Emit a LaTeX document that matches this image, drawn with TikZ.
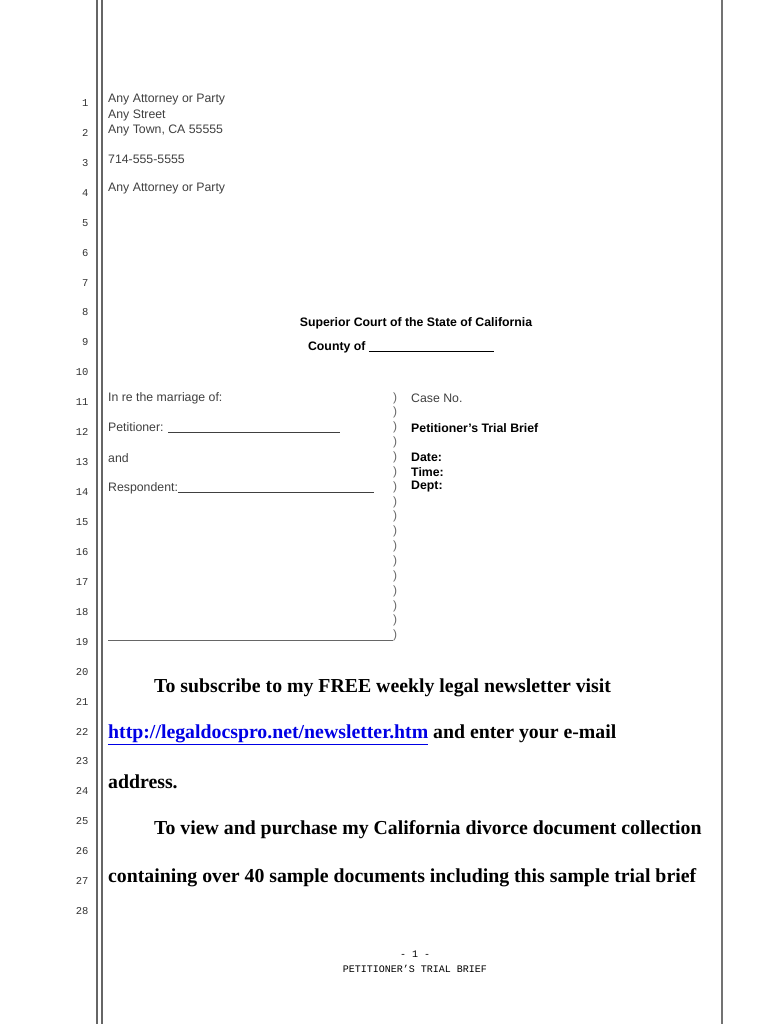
\documentclass[tikz,border=0pt]{standalone}
\usepackage{fontspec}
\setmainfont{Liberation Serif}
\setsansfont{Liberation Sans}
\setmonofont{Liberation Mono}
\begin{document}
\begin{tikzpicture}[x=1pt,y=-1pt,
  ln/.style={anchor=east,font=\ttfamily\fontsize{10.5}{10}\selectfont,text=black!80},
  tx/.style={anchor=west,font=\sffamily\fontsize{12.3}{12}\selectfont,text=black!75,inner sep=0},
  bx/.style={anchor=west,font=\sffamily\bfseries\fontsize{12.3}{12}\selectfont,inner sep=0},
  big/.style={anchor=west,font=\bfseries\fontsize{19.8}{18}\selectfont,inner sep=0},
  par/.style={font=\sffamily\fontsize{12}{12}\selectfont,text=black!60,inner sep=0}]
\useasboundingbox (0,0) rectangle (768,1024);
\fill[white] (0,0) rectangle (768,1024);
\draw[black!60,line width=1.2] (97,0) -- (97,1024);
\draw[black!60,line width=1.2] (102,0) -- (102,1024);
\draw[black!55,line width=1.4] (722,0) -- (722,1024);
\foreach \i in {1,...,28} \node[ln] (n\i) at (92,{103+(\i-1)*29.93}) {\i};
\node[tx] (a1) at (108,100) {Any Attorney or Party};
\node[tx] (a2) at (108,115) {Any Street};
\node[tx] (a3) at (108,130) {Any Town, CA 55555};
\node[tx] (a4) at (108,159) {714-555-5555};
\node[tx] (a5) at (108,189) {Any Attorney or Party};
\node[bx,anchor=center] (c1) at (416,323) {Superior Court of the State of California};
\node[bx,anchor=center] (c2) at (401,347) {County of \rule[-1pt]{125pt}{0.6pt}};
\node[tx] (m1) at (108,398) {In re the marriage of:};
\node[tx] (m2) at (108,428) {Petitioner: \rule[-1pt]{172pt}{0.6pt}};
\node[tx] (m3) at (108,458) {and};
\node[tx] (m4) at (108,488) {Respondent:\rule[-1pt]{196pt}{0.6pt}};
\foreach \k in {0,...,16} \node[par] (p\k) at (395,{398+\k*14.85}) {)};
\draw[black!60,line width=0.8] (108,640) -- (393,640);
\node[tx] (r1) at (411,398) {Case No.};
\node[bx] (r2) at (411,428) {Petitioner’s Trial Brief};
\node[bx] (r3) at (411,457) {Date:};
\node[bx] (r4) at (411,472) {Time:};
\node[bx] (r5) at (411,487) {Dept:};
\node[big] (t1) at (154,688) {To subscribe to my FREE weekly legal newsletter visit};
\node[big] (t2) at (108,735) {\textcolor[rgb]{0,0,0.9}{\underline{http://legaldocspro.net/newsletter.htm}} and enter your e-mail};
\node[big] (t3) at (108,782) {address.};
\node[big] (t4) at (154,830) {To view and purchase my California divorce document collection};
\node[big] (t5) at (108,878) {containing over 40 sample documents including this sample trial brief};
\node[font=\ttfamily\fontsize{10}{10}\selectfont] (f1) at (415,954) {- 1 -};
\node[font=\ttfamily\fontsize{10}{10}\selectfont] (f2) at (415,969) {PETITIONER’S TRIAL BRIEF};
\end{tikzpicture}
\end{document}
